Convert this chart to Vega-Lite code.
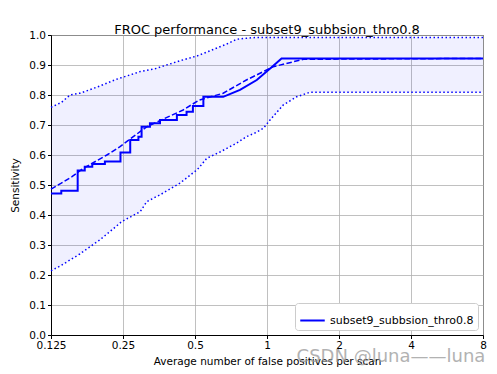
{
  "$schema": "https://vega.github.io/schema/vega-lite/v6.json",
  "width": 432,
  "height": 300,
  "autosize": {"type": "none"},
  "padding": {"left": 51, "top": 35, "right": 14, "bottom": 39},
  "background": "white",
  "title": {"text": "FROC performance - subset9_subbsion_thro0.8", "fontSize": 13, "fontWeight": "normal", "font": "DejaVu Sans", "color": "black", "offset": -1, "dy": 6},
  "config": {
    "font": "DejaVu Sans",
    "view": {"stroke": "black", "strokeWidth": 1},
    "axis": {
      "grid": true, "gridColor": "#b0b0b0", "gridWidth": 0.8,
      "domainColor": "black", "tickColor": "black", "tickSize": 3.5,
      "labelFontSize": 10.5, "labelColor": "black", "labelFont": "DejaVu Sans",
      "titleFontSize": 10.5, "titleFontWeight": "normal", "titleColor": "black", "titleFont": "DejaVu Sans",
      "labelFlush": false, "labelOverlap": false
    },
    "legend": {"labelFont": "DejaVu Sans"}
  },
  "datasets": {
    "band": [
      {"fp": 0.125, "lo": 0.214, "hi": 0.759},
      {"fp": 0.138, "lo": 0.232, "hi": 0.775},
      {"fp": 0.15, "lo": 0.25, "hi": 0.8},
      {"fp": 0.165, "lo": 0.27, "hi": 0.806},
      {"fp": 0.181, "lo": 0.293, "hi": 0.817},
      {"fp": 0.2, "lo": 0.317, "hi": 0.83},
      {"fp": 0.234, "lo": 0.362, "hi": 0.852},
      {"fp": 0.247, "lo": 0.378, "hi": 0.858},
      {"fp": 0.295, "lo": 0.411, "hi": 0.878},
      {"fp": 0.314, "lo": 0.444, "hi": 0.882},
      {"fp": 0.346, "lo": 0.462, "hi": 0.889},
      {"fp": 0.357, "lo": 0.467, "hi": 0.893},
      {"fp": 0.432, "lo": 0.506, "hi": 0.914},
      {"fp": 0.509, "lo": 0.55, "hi": 0.93},
      {"fp": 0.52, "lo": 0.558, "hi": 0.933},
      {"fp": 0.56, "lo": 0.589, "hi": 0.943},
      {"fp": 0.636, "lo": 0.61, "hi": 0.961},
      {"fp": 0.679, "lo": 0.622, "hi": 0.97},
      {"fp": 0.748, "lo": 0.64, "hi": 0.986},
      {"fp": 0.82, "lo": 0.661, "hi": 0.989},
      {"fp": 0.9, "lo": 0.675, "hi": 0.992},
      {"fp": 0.966, "lo": 0.689, "hi": 0.992},
      {"fp": 1.03, "lo": 0.717, "hi": 0.992},
      {"fp": 1.17, "lo": 0.767, "hi": 0.992},
      {"fp": 1.33, "lo": 0.794, "hi": 0.992},
      {"fp": 1.51, "lo": 0.809, "hi": 0.992},
      {"fp": 8, "lo": 0.809, "hi": 0.992}
    ],
    "mean": [
      {"fp": 0.125, "sens": 0.486},
      {"fp": 0.138, "sens": 0.506},
      {"fp": 0.153, "sens": 0.528},
      {"fp": 0.171, "sens": 0.556},
      {"fp": 0.214, "sens": 0.6},
      {"fp": 0.243, "sens": 0.628},
      {"fp": 0.276, "sens": 0.661},
      {"fp": 0.314, "sens": 0.694},
      {"fp": 0.369, "sens": 0.72},
      {"fp": 0.446, "sens": 0.75},
      {"fp": 0.52, "sens": 0.783},
      {"fp": 0.656, "sens": 0.806},
      {"fp": 0.82, "sens": 0.85},
      {"fp": 1.06, "sens": 0.894},
      {"fp": 1.42, "sens": 0.919},
      {"fp": 8, "sens": 0.922}
    ],
    "froc": [
      {"fp": 0.125, "sens": 0.472},
      {"fp": 0.138, "sens": 0.472},
      {"fp": 0.138, "sens": 0.481},
      {"fp": 0.1616, "sens": 0.481},
      {"fp": 0.1616, "sens": 0.548},
      {"fp": 0.173, "sens": 0.548},
      {"fp": 0.173, "sens": 0.561},
      {"fp": 0.186, "sens": 0.561},
      {"fp": 0.186, "sens": 0.57},
      {"fp": 0.21, "sens": 0.57},
      {"fp": 0.21, "sens": 0.578},
      {"fp": 0.244, "sens": 0.578},
      {"fp": 0.244, "sens": 0.608},
      {"fp": 0.268, "sens": 0.608},
      {"fp": 0.268, "sens": 0.65},
      {"fp": 0.29, "sens": 0.65},
      {"fp": 0.29, "sens": 0.661},
      {"fp": 0.299, "sens": 0.661},
      {"fp": 0.299, "sens": 0.694},
      {"fp": 0.324, "sens": 0.694},
      {"fp": 0.324, "sens": 0.706},
      {"fp": 0.357, "sens": 0.706},
      {"fp": 0.357, "sens": 0.717},
      {"fp": 0.42, "sens": 0.717},
      {"fp": 0.42, "sens": 0.733},
      {"fp": 0.461, "sens": 0.733},
      {"fp": 0.461, "sens": 0.744},
      {"fp": 0.49, "sens": 0.744},
      {"fp": 0.49, "sens": 0.763},
      {"fp": 0.542, "sens": 0.763},
      {"fp": 0.542, "sens": 0.794},
      {"fp": 0.656, "sens": 0.794},
      {"fp": 0.771, "sens": 0.817},
      {"fp": 0.906, "sens": 0.85},
      {"fp": 1.06, "sens": 0.897},
      {"fp": 1.15, "sens": 0.922},
      {"fp": 8, "sens": 0.922}
    ]
  },
  "encoding": {
    "x": {"type": "quantitative", "scale": {"type": "log", "base": 2, "domain": [0.125, 8], "nice": false},
          "axis": {"values": [0.125, 0.25, 0.5, 1, 2, 4, 8], "format": "~g", "title": "Average number of false positives per scan", "titlePadding": 5}},
    "y": {"type": "quantitative", "scale": {"domain": [0, 1], "nice": false},
          "axis": {"values": [0, 0.1, 0.2, 0.3, 0.4, 0.5, 0.6, 0.7, 0.8, 0.9, 1], "format": ".1f", "title": "Sensitivity", "titlePadding": 8}}
  },
  "layer": [
    {
      "data": {"name": "band"},
      "mark": {"type": "area", "fill": "blue", "fillOpacity": 0.06},
      "encoding": {
        "x": {"field": "fp"},
        "y": {"field": "lo"},
        "y2": {"field": "hi"}
      }
    },
    {
      "data": {"name": "band"},
      "mark": {"type": "line", "color": "blue", "strokeWidth": 1.5, "strokeDash": [1.5, 2.5]},
      "encoding": {"x": {"field": "fp"}, "y": {"field": "hi"}}
    },
    {
      "data": {"name": "band"},
      "mark": {"type": "line", "color": "blue", "strokeWidth": 1.5, "strokeDash": [1.5, 2.5]},
      "encoding": {"x": {"field": "fp"}, "y": {"field": "lo"}}
    },
    {
      "data": {"name": "mean"},
      "mark": {"type": "line", "color": "blue", "strokeWidth": 1.5, "strokeDash": [5.5, 2.4]},
      "encoding": {"x": {"field": "fp"}, "y": {"field": "sens"}}
    },
    {
      "data": {"name": "froc"},
      "mark": {"type": "line", "strokeWidth": 2},
      "encoding": {
        "x": {"field": "fp"},
        "y": {"field": "sens"},
        "order": {"value": null},
        "color": {"datum": "subset9_subbsion_thro0.8", "scale": {"range": ["blue"]},
                  "legend": {"title": null, "orient": "bottom-right", "offset": 5, "strokeColor": "#cccccc", "fillColor": "white", "padding": 4, "cornerRadius": 3, "symbolType": "stroke", "symbolStrokeWidth": 2, "symbolSize": 600, "labelFontSize": 11, "labelColor": "black"}}
      }
    },
    {
      "data": {"values": [{}]},
      "mark": {"type": "text", "align": "left", "baseline": "middle", "fontSize": 18, "color": "#999999", "opacity": 0.75},
      "encoding": {
        "x": {"datum": 1.33},
        "y": {"datum": -0.072},
        "text": {"value": "CSDN @luna——luna"}
      }
    }
  ]
}
